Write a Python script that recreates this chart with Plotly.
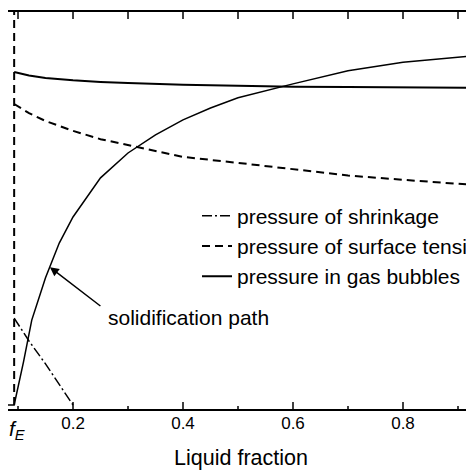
import plotly.graph_objects as go

# liquid fraction at the eutectic point
f_E = 0.093

# pressure in gas bubbles (solid)
x_gas = [0.093, 0.12, 0.15, 0.2, 0.25, 0.3, 0.4, 0.5, 0.6, 0.7, 0.8, 0.93]
y_gas = [8.43, 8.34, 8.28, 8.22, 8.18, 8.15, 8.11, 8.08, 8.06, 8.05, 8.04, 8.03]

# pressure of surface tension (dashed), with its vertical drop at f_E
x_surf = [0.093, 0.093, None, 0.093, 0.12, 0.15, 0.2, 0.25, 0.3, 0.4, 0.5, 0.6, 0.7, 0.8, 0.93]
y_surf = [0.0, 10.5, None, 7.62, 7.39, 7.19, 6.94, 6.73, 6.58, 6.28, 6.13, 5.97, 5.81, 5.70, 5.57]

# pressure of shrinkage (dash-dot)
x_shr = [0.093, 0.12, 0.15, 0.2]
y_shr = [2.20, 1.62, 1.04, 0.0]

# solidification path
x_sol = [0.06, 0.093, 0.11, 0.125, 0.15, 0.175, 0.2, 0.25, 0.3, 0.35, 0.4, 0.45, 0.5, 0.6, 0.7, 0.8, 0.93]
y_sol = [0.0, 0.0, 1.09, 2.15, 3.22, 4.10, 4.76, 5.75, 6.38, 6.84, 7.22, 7.52, 7.78, 8.13, 8.46, 8.68, 8.84]

x_ticks = [0.2, 0.4, 0.6, 0.8]
x_labels = ["0.2", "0.4", "0.6", "0.8"]
x_minor = [0.1, 0.3, 0.5, 0.7, 0.9]
x_top = [0.1, 0.2, 0.3, 0.4, 0.5, 0.6, 0.7, 0.8, 0.9]

FONT = "Liberation Sans, Arial, sans-serif"
X_RANGE = [0.0818, 0.9291]
Y_RANGE = [-0.152, 10]
PLOT_H = 401  # plot area height in px
u = (Y_RANGE[1] - Y_RANGE[0]) / PLOT_H  # one pixel in y units

fig = go.Figure()
fig.add_trace(go.Scatter(x=x_shr, y=y_shr, mode="lines", name="pressure of shrinkage",
                         line=dict(color="black", width=1.5, dash="10px,3px,2px,3px")))
fig.add_trace(go.Scatter(x=x_surf, y=y_surf, mode="lines", name="pressure of surface tension",
                         connectgaps=False,
                         line=dict(color="black", width=2, dash="8px,5px")))
fig.add_trace(go.Scatter(x=x_gas, y=y_gas, mode="lines", name="pressure in gas bubbles",
                         line=dict(color="black", width=2)))
fig.add_trace(go.Scatter(x=x_sol, y=y_sol, mode="lines", name="solidification path",
                         showlegend=False, line=dict(color="black", width=1.5)))

# frame lines at bottom and top
y_bot, y_top = Y_RANGE[0] + u, Y_RANGE[1] - u
fig.add_trace(go.Scatter(x=[X_RANGE[0], X_RANGE[1], None, X_RANGE[0], X_RANGE[1]],
                         y=[y_bot, y_bot, None, y_top, y_top],
                         mode="lines", showlegend=False, hoverinfo="skip",
                         line=dict(color="black", width=2)))
# tick marks
tx, ty = [], []
for v in x_ticks:
    tx += [v, v, None]
    ty += [y_bot, y_bot + 8 * u, None]
for v in x_minor:
    tx += [v, v, None]
    ty += [y_bot, y_bot + 4 * u, None]
for v in x_top:
    tx += [v, v, None]
    ty += [y_top, y_top - 8 * u, None]
fig.add_trace(go.Scatter(x=tx, y=ty, mode="lines", showlegend=False, hoverinfo="skip",
                         connectgaps=False, line=dict(color="black", width=1.5)))

# arrow to the solidification path
fig.add_annotation(x=0.158, y=3.49, text="", showarrow=True, ax=52, ay=40,
                   arrowhead=2, arrowsize=1.2, arrowwidth=1.5, arrowcolor="black")
fig.add_annotation(x=0.26, y=2.22, text="solidification path", showarrow=False,
                   xanchor="left", font=dict(size=21, color="black", family=FONT))
fig.add_annotation(x=f_E, y=0, yref="paper", yshift=-34, xshift=3,
                   text="<i>f</i><sub><i>E</i></sub>",
                   showarrow=False, font=dict(size=21, color="black", family=FONT))

fig.update_layout(
    width=466, height=466,
    margin=dict(l=0, r=0, t=2, b=63, autoexpand=False),
    plot_bgcolor="white", paper_bgcolor="white",
    font=dict(family=FONT, color="black"),
    showlegend=True,
    legend=dict(x=0.4056, y=0.5374, xanchor="left", yanchor="top",
                bgcolor="rgba(0,0,0,0)", font=dict(size=21, color="black")),
    xaxis=dict(range=X_RANGE, showline=False, ticks="",
               tickvals=x_ticks, ticktext=x_labels, tickfont=dict(size=17),
               showgrid=False, zeroline=False,
               title=dict(text="Liquid fraction", font=dict(size=21.5), standoff=17)),
    yaxis=dict(range=Y_RANGE, showline=False, showticklabels=False, ticks="",
               showgrid=False, zeroline=False),
)

fig.write_html("out.html")
